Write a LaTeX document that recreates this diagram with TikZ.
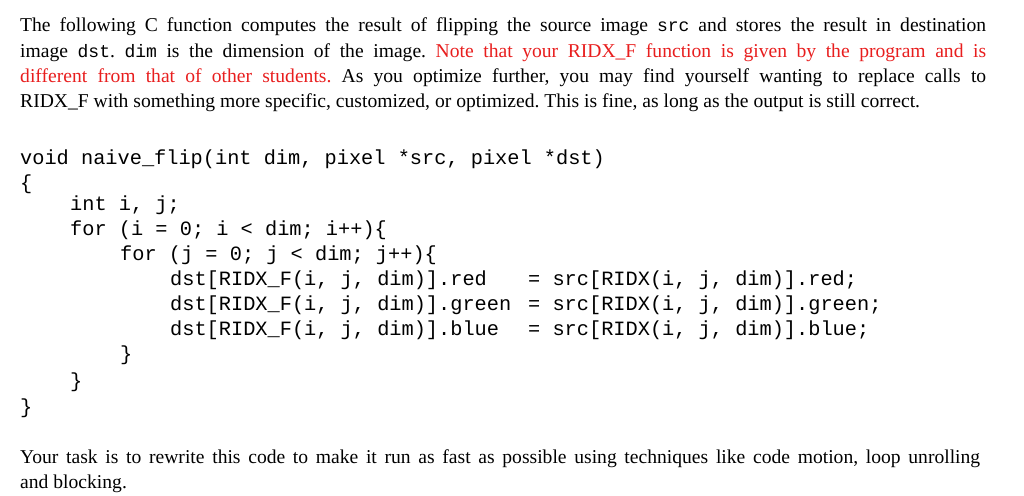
\documentclass[tikz,border=0pt]{standalone}
\usepackage{fontspec}
\setmainfont{Liberation Serif}
\setmonofont{Liberation Mono}
\definecolor{nred}{RGB}{232,30,30}
\frenchspacing
\begin{document}
\begin{tikzpicture}[x=1pt,y=1pt,
  para/.style={anchor=base west,inner sep=0pt,font=\fontsize{19.6}{22}\selectfont},
  code/.style={anchor=base west,inner sep=0pt,font=\fontsize{20.3}{22}\ttfamily}]
\useasboundingbox (0,0) rectangle (1024,-495);
\node[para] (p1) at (20,-32) {\hbox to 966pt{The following C function computes the result of flipping the source image \texttt{\fontsize{18}{20}\selectfont src} and stores the result in destination}};
\node[para] (p2) at (20,-57) {\hbox to 966pt{image \texttt{\fontsize{18}{20}\selectfont dst}. \texttt{\fontsize{18}{20}\selectfont dim} is the dimension of the image. \textcolor{nred}{Note that your RIDX\_F function is given by the program and is}}};
\node[para] (p3) at (20,-82) {\hbox to 966pt{\textcolor{nred}{different from that of other students.} As you optimize further, you may find yourself wanting to replace calls to}};
\node[para] (p4) at (20,-107) {RIDX\_F with something more specific, customized, or optimized. This is fine, as long as the output is still correct.};
\node[code] (c1) at (20,-164) {void naive\_flip(int dim, pixel *src, pixel *dst)};
\node[code] (c2) at (20,-189) {\{};
\node[code] (c3) at (70,-210) {int i, j;};
\node[code] (c4) at (70,-235) {for (i = 0; i < dim; i++)\{};
\node[code] (c5) at (120,-260) {for (j = 0; j < dim; j++)\{};
\node[code] (c6) at (170,-285) {dst[RIDX\_F(i, j, dim)].red};
\node[code] (c7) at (170,-310) {dst[RIDX\_F(i, j, dim)].green};
\node[code] (c8) at (170,-335) {dst[RIDX\_F(i, j, dim)].blue};
\node[code] (e6) at (528,-285) {= src[RIDX(i, j, dim)].red;};
\node[code] (e7) at (528,-310) {= src[RIDX(i, j, dim)].green;};
\node[code] (e8) at (528,-335) {= src[RIDX(i, j, dim)].blue;};
\node[code] (b1) at (120,-360) {\}};
\node[code] (b2) at (70,-387) {\}};
\node[code] (b3) at (20,-413) {\}};
\node[para] (f1) at (20,-463) {\hbox to 960pt{Your task is to rewrite this code to make it run as fast as possible using techniques like code motion, loop unrolling}};
\node[para] (f2) at (20,-488) {and blocking.};
\end{tikzpicture}
\end{document}
